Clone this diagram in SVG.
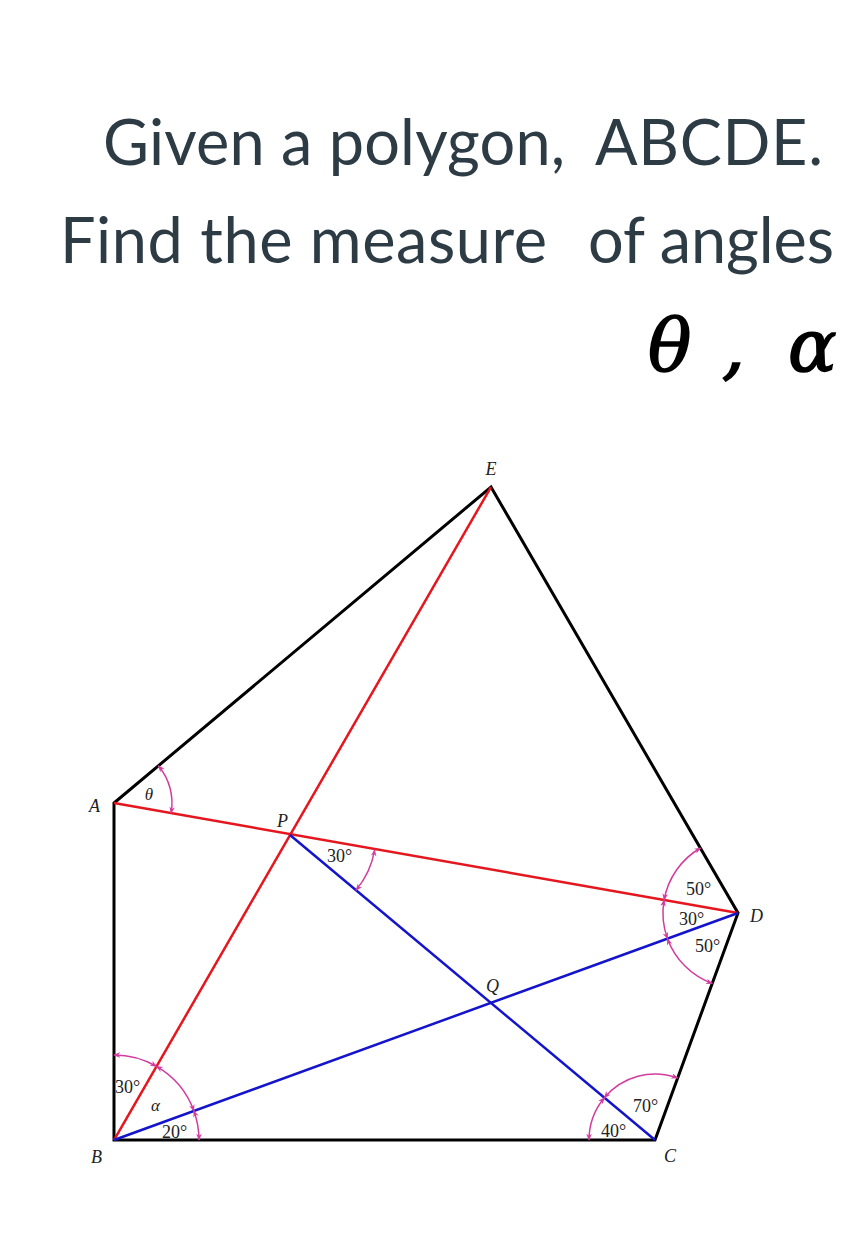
<svg xmlns="http://www.w3.org/2000/svg" width="859" height="1238" viewBox="0 0 859 1238">
<style>
.title{font-family:Lato,"Liberation Sans",sans-serif;font-size:63px;fill:#2d3b45}
.big{font-family:"DejaVu Serif","Liberation Serif",serif;font-style:italic;font-size:72px;fill:#000;stroke:#000;stroke-width:1.6}
.pt{font-family:"Liberation Serif",serif;font-style:italic;font-size:18px;fill:#222}
.deg{font-family:"Liberation Serif",serif;font-size:18px;fill:#222}
.blk{stroke:#000;stroke-width:3;fill:none;stroke-linecap:round}
.red{stroke:#e5161d;stroke-width:2.5;fill:none}
.blu{stroke:#1414cc;stroke-width:2.5;fill:none}
.arc{stroke:#d23c9f;stroke-width:1.5;fill:none;marker-start:url(#ah);marker-end:url(#ah)}
</style>
<defs>
<marker id="ah" viewBox="0 0 10 10" refX="9" refY="5" markerWidth="7" markerHeight="7" markerUnits="userSpaceOnUse" orient="auto-start-reverse">
<path d="M0,1 L10,5 L0,9 L3,5 Z" fill="#d23c9f"/>
</marker>
</defs>
<rect width="859" height="1238" fill="#fff"/>
<g id="title">
<text class="title" x="103" y="165" textLength="462">Given a polygon,</text>
<text class="title" x="595" y="165" textLength="228">ABCDE.</text>
<text class="title" x="60" y="263" textLength="487">Find the measure</text>
<text class="title" x="588" y="263" textLength="246">of angles</text>
<text class="big" x="648" y="371">θ</text>
<text class="big" x="722" y="371">,</text>
<text class="big" x="788" y="371">α</text>
</g>
<g id="connectors">
<polyline class="blk" points="114,803 491,487 738,913 655,1140 114,1140 114,803"/>
<line class="red" x1="114" y1="803" x2="738" y2="913"/>
<line class="red" x1="114" y1="1140" x2="491" y2="487"/>
<line class="blu" x1="290" y1="835" x2="655" y2="1140"/>
<line class="blu" x1="114" y1="1140" x2="738" y2="913"/>
</g>
<g id="angles">
<path class="arc" d="M158.4,765.7 A58,58 0 0 1 171.1,813.1"/>
<path class="arc" d="M374.7,849.9 A86,86 0 0 1 356.0,890.2"/>
<path class="arc" d="M700.5,848.0 A75,75 0 0 0 664.1,900.0"/>
<path class="arc" d="M664.1,900.0 A75,75 0 0 0 667.5,938.7"/>
<path class="arc" d="M667.5,938.7 A75,75 0 0 0 712.3,983.5"/>
<path class="arc" d="M114,1055 A85,85 0 0 1 156.5,1066.4"/>
<path class="arc" d="M156.5,1066.4 A85,85 0 0 1 193.9,1110.9"/>
<path class="arc" d="M193.9,1110.9 A85,85 0 0 1 199,1140"/>
<path class="arc" d="M589,1140 A66,66 0 0 1 604.4,1097.7"/>
<path class="arc" d="M604.4,1097.7 A66,66 0 0 1 677.6,1078.0"/>
</g>
<g id="node-E"><text class="pt" x="491" y="475" text-anchor="middle">E</text></g>
<g id="node-A"><text class="pt" x="89" y="812">A</text></g>
<g id="node-P"><text class="pt" x="277" y="827">P</text></g>
<g id="node-D"><text class="pt" x="750" y="922">D</text></g>
<g id="node-Q"><text class="pt" x="486" y="992">Q</text></g>
<g id="node-B"><text class="pt" x="91" y="1163">B</text></g>
<g id="node-C"><text class="pt" x="664" y="1162">C</text></g>
<g id="labels">
<text class="pt" x="149" y="800" text-anchor="middle" style="font-size:17px">θ</text>
<text class="deg" x="327" y="862">30°</text>
<text class="deg" x="686" y="895">50°</text>
<text class="deg" x="679" y="925">30°</text>
<text class="deg" x="695" y="952">50°</text>
<text class="deg" x="115" y="1093">30°</text>
<text class="pt" x="151" y="1111" style="font-size:17px">α</text>
<text class="deg" x="162" y="1138">20°</text>
<text class="deg" x="633" y="1112">70°</text>
<text class="deg" x="601" y="1137">40°</text>
</g>
</svg>
